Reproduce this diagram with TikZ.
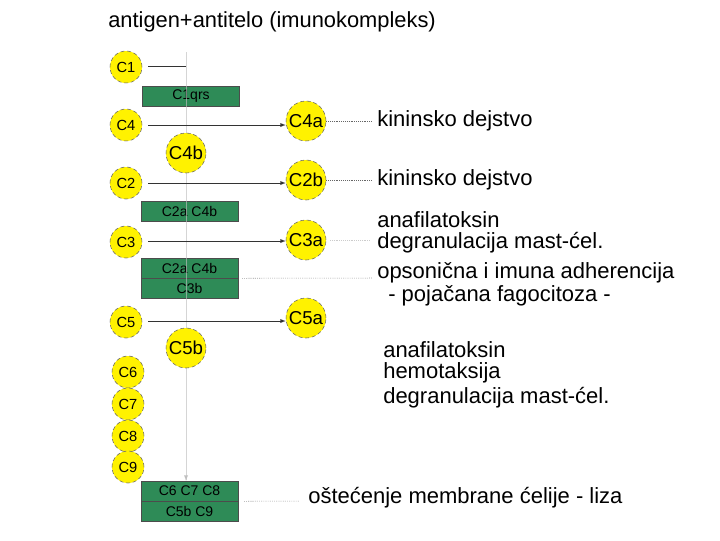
\documentclass[tikz,border=0pt]{standalone}
\usepackage{fontspec}
\setmainfont{Liberation Sans}
\begin{document}
\begin{tikzpicture}[x=0.75pt,y=-0.75pt,
 cc/.style={circle,draw=black!60,densely dashed,fill=yellow,minimum size=32*0.75pt,inner sep=0pt,font=\fontsize{11}{11}\selectfont},
 cb/.style={cc,minimum size=40*0.75pt,font=\fontsize{14}{14}\selectfont},
 gb/.style={draw=black!70,fill={rgb,255:red,46;green,139;blue,87},minimum width=97*0.75pt,minimum height=20*0.75pt,inner sep=0pt,font=\fontsize{10.5}{11}\selectfont},
 ar/.style={->,>=latex,black!80,thin},
 dt/.style={densely dotted,black!60},
 tx/.style={anchor=west,inner sep=0pt,font=\fontsize{16.5}{18}\selectfont}]
\useasboundingbox (0,0) rectangle (720,540);
\fill[white] (0,0) rectangle (720,540);
\node[tx,font=\fontsize{16.4}{18}\selectfont] (title) at (108,22) {antigen+antitelo (imunokompleks)};
\coordinate (top) at (186,52);
\node[gb] (b1) at (191,96) {C1qrs};
\node[gb] (b2) at (189.5,211) {C2a C4b};
\node[gb] (b3) at (189.5,268) {C2a C4b};
\node[gb] (b4) at (189.5,288) {C3b};
\node[gb] (b5) at (189.5,491) {C6 C7 C8};
\node[gb] (b6) at (189.5,511) {C5b C9};
\draw[ar,black!25] (top) -- (186,480) -- (b5.north -| 186,0);
\node[cc] (c1) at (126,67) {C1};
\node[cc] (c4) at (126,125) {C4};
\node[cc] (c2) at (126,183) {C2};
\node[cc] (c3) at (126,242) {C3};
\node[cc] (c5) at (126,322) {C5};
\node[cc] (c6) at (128,372) {C6};
\node[cc] (c7) at (128,404) {C7};
\node[cc] (c8) at (128,436) {C8};
\node[cc] (c9) at (128,467) {C9};
\node[cb] (c4b) at (186,153) {C4b};
\node[cb] (c5b) at (186,348) {C5b};
\node[cb] (c4a) at (306,121) {C4a};
\node[cb] (c2b) at (306,180) {C2b};
\node[cb] (c3a) at (306,240) {C3a};
\node[cb] (c5a) at (306,318) {C5a};
\draw[black!80] (148,66) -- (186,66);
\draw[ar] (148,125) -- (c4a.west |- 0,125);
\draw[ar] (148,183) -- (c2b.west |- 0,183);
\draw[ar] (148,241) -- (c3a.west |- 0,241);
\draw[ar] (148,321) -- (c5a.west |- 0,321);
\node[tx] (t1) at (377,121) {kininsko dejstvo};
\node[tx] (t2) at (377,180) {kininsko dejstvo};
\node[tx] (t3) at (377,220) {anafilatoksin};
\node[tx] (t4) at (377,243) {degranulacija mast-ćel.};
\node[tx] (t5) at (377,273) {opsonična i imuna adherencija};
\node[tx] (t6) at (388,296) {- pojačana fagocitoza -};
\node[tx] (t7) at (383,350) {anafilatoksin};
\node[tx] (t8) at (383,373) {hemotaksija};
\node[tx] (t9) at (383,398) {degranulacija mast-ćel.};
\node[tx] (t10) at (308,498) {oštećenje membrane ćelije - liza};
\draw[dt] (c4a.east) -- (372,121);
\draw[dt] (c2b.east) -- (372,180);
\draw[dt,black!20] (330,240) -- (370,240);
\draw[dt] (b3.south east) ++(4,0) -- (372,278);
\draw[dt] (b5.south east) ++(6,0) -- (300,501);
\end{tikzpicture}
\end{document}
